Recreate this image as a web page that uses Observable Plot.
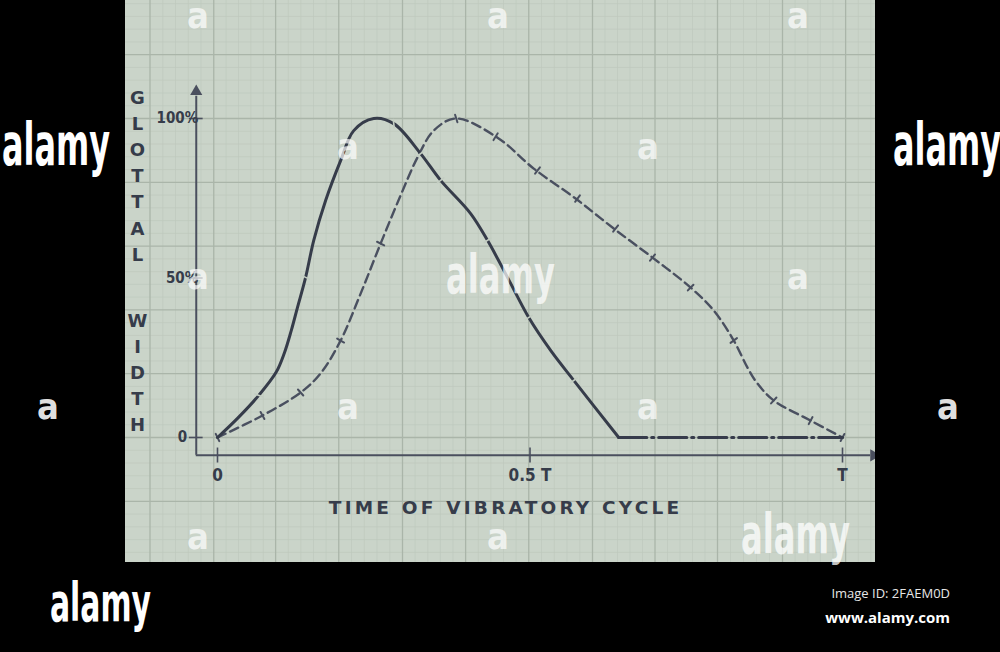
<!DOCTYPE html>
<html><head><meta charset="utf-8">
<script src="https://cdn.jsdelivr.net/npm/d3@7"></script>
<script src="https://cdn.jsdelivr.net/npm/@observablehq/plot@0.6"></script>
<style>
html,body{margin:0;padding:0;background:#000;width:1000px;height:652px;overflow:hidden;}
#panel{position:absolute;left:125px;top:0;width:750px;height:562px;background:#cad4c9;overflow:hidden;}
#overlay{position:absolute;left:0;top:0;pointer-events:none;}
</style></head><body>
<div id="panel"></div>
<svg id="overlay" width="1000" height="652"></svg>
<script>
// ---- data (time as fraction of cycle T, glottal width in %) ----
const solidX = [0, 0.032, 0.066, 0.094, 0.107, 0.118, 0.128, 0.141, 0.154, 0.173, 0.197, 0.218, 0.250, 0.282, 0.325, 0.357, 0.405, 0.432, 0.464, 0.498, 0.533, 0.570, 0.642];
const solidY = [0, 6, 13.2, 20.5, 26.5, 33.5, 40.8, 50.2, 61.8, 74.3, 86.8, 96.2, 100, 98.4, 89.0, 80.6, 70.2, 61.8, 50.2, 37.6, 27.3, 17.9, 0];
const closedX = [0.642, 1.0];
const closedY = [0, 0];
const dashX = [0, 0.072, 0.133, 0.165, 0.197, 0.229, 0.261, 0.293, 0.320, 0.346, 0.381, 0.448, 0.506, 0.573, 0.634, 0.696, 0.757, 0.794, 0.826, 0.848, 0.864, 0.890, 0.949, 1.0];
const dashY = [0, 6.9, 14.1, 20.1, 30.4, 45.1, 60.8, 75.9, 87.8, 96.2, 100, 94.0, 84.3, 74.9, 65.5, 56.4, 47.0, 39.8, 30.4, 21.9, 16.9, 11.6, 5.3, 0];
const dashTickX = [0, 0.072, 0.133, 0.197, 0.261, 0.382, 0.445, 0.512, 0.576, 0.637, 0.696, 0.757, 0.826, 0.890, 0.949, 1.0];
const dashTickY = [0, 6.9, 14.1, 30.4, 60.8, 100, 94.3, 83.7, 74.9, 65.5, 56.4, 47.0, 30.4, 11.6, 5.3, 0];
const notchX = [0.066, 0.141, 0.282, 0.325, 0.357, 0.432, 0.498, 0.570];
const notchY = [13.2, 50.2, 98.4, 89.0, 80.6, 61.8, 37.6, 17.9];
const xTickValues = [0, 0.5, 1];
const xTickLabels = ["0", "0.5 T", "T"];
const yTickValues = [0, 50, 100];
const yPctValues = [50, 100];
const yPctLabels = ["50%", "100%"];
const yZeroLabel = ["0"];
const gridX = [-0.108, -0.006, 0.093, 0.194, 0.296, 0.397, 0.498, 0.600, 0.700, 0.800, 0.904, 1.005, 1.106];
const gridY = [-40, -20, 0, 20, 40, 60, 80, 100, 120, 140];
const xTitle = "TIME OF VIBRATORY CYCLE";
const yTitle1 = "G\nL\nO\nT\nT\nA\nL";
const yTitle2 = "W\nI\nD\nT\nH";

// ---- derived tables ----
const solid = solidX.map((x, i) => ({x, y: solidY[i]}));
const closed = closedX.map((x, i) => ({x, y: closedY[i]}));
const dashed = dashX.map((x, i) => ({x, y: dashY[i]}));
const dashTicks = dashTickX.map((x, i) => ({x, y: dashTickY[i]}));
const notches = notchX.map((x, i) => ({x, y: notchY[i]}));
const minorX = [];
for (let i = 0; i < gridX.length - 1; i++) {
  const a = gridX[i], b = gridX[i + 1];
  for (let k = 1; k < 5; k++) minorX.push(a + (b - a) * k / 5);
}
const minorY = [];
for (let i = 0; i < gridY.length - 1; i++) {
  for (let k = 1; k < 5; k++) minorY.push(gridY[i] + (gridY[i + 1] - gridY[i]) * k / 5);
}

const ink = "#363c4a";
const axisX = -0.034, axisY = -5.6;
const lab = "'DejaVu Sans Condensed','Liberation Sans Narrow','Roboto',sans-serif";
const bold = "'DejaVu Sans','Verdana',sans-serif";

function tickMarker(len, sw, col) {
  return (color) => {
    const ns = "http://www.w3.org/2000/svg";
    const m = document.createElementNS(ns, "marker");
    m.setAttribute("viewBox", `${-len} ${-len} ${2 * len} ${2 * len}`);
    m.setAttribute("markerWidth", 2 * len);
    m.setAttribute("markerHeight", 2 * len);
    m.setAttribute("markerUnits", "userSpaceOnUse");
    m.setAttribute("orient", "auto");
    m.setAttribute("overflow", "visible");
    const p = document.createElementNS(ns, "path");
    p.setAttribute("d", `M0,${-len / 2}V${len / 2}`);
    p.setAttribute("stroke", col || color);
    p.setAttribute("stroke-width", sw);
    p.setAttribute("stroke-opacity", 1);
    p.setAttribute("stroke-dasharray", "none");
    p.setAttribute("fill", "none");
    m.appendChild(p);
    return m;
  };
}

const chart = Plot.plot({
  width: 750, height: 562,
  marginLeft: 92, marginRight: 33, marginTop: 118, marginBottom: 125,
  x: {domain: [0, 1], axis: null},
  y: {domain: [0, 100], axis: null},
  style: {background: "transparent", overflow: "visible"},
  marks: [
    Plot.ruleX(minorX, {x: d => d, y1: -45, y2: 150, stroke: "#bec8bd", strokeWidth: 0.7}),
    Plot.ruleY(minorY, {y: d => d, x1: -0.2, x2: 1.2, stroke: "#bec8bd", strokeWidth: 0.7}),
    Plot.ruleX(gridX, {x: d => d, y1: -45, y2: 150, stroke: "#aab5a9", strokeWidth: 1.3}),
    Plot.ruleY(gridY, {y: d => d, x1: -0.2, x2: 1.2, stroke: "#aab5a9", strokeWidth: 1.3}),
    // axes
    Plot.ruleY([axisY], {y: d => d, x1: axisX, x2: 1.045, stroke: "#4a4f5e", strokeWidth: 2}),
    Plot.ruleX([axisX], {x: d => d, y1: axisY, y2: 107, stroke: "#4a4f5e", strokeWidth: 2}),
    Plot.dot([1.05], {x: d => d, y: axisY, symbol: "triangle", r: 4.5, rotate: 90, fill: "#4a4f5e", stroke: "none"}),
    Plot.dot([axisX], {x: d => d, y: 108.5, symbol: "triangle", r: 4.5, fill: "#4a4f5e", stroke: "none"}),
    Plot.ruleX(xTickValues, {x: d => d, y1: -3.3, y2: -8, stroke: "#4a4f5e", strokeWidth: 1.6}),
    Plot.ruleY(yTickValues, {y: d => d, x1: axisX - 0.011, x2: axisX + 0.011, stroke: "#4a4f5e", strokeWidth: 1.6}),
    // tick labels
    Plot.text(xTickValues, {x: d => d, y: -9.8, text: (d, i) => xTickLabels[i], fill: ink, fontSize: 17, fontWeight: 600, fontFamily: lab, lineAnchor: "top"}),
    Plot.text(yPctValues, {x: axisX, y: d => d, text: (d, i) => yPctLabels[i], fill: ink, fontSize: 15, fontWeight: 600, fontFamily: lab, textAnchor: "end", dx: 2}),
    Plot.text(yZeroLabel, {x: axisX, y: 0, text: d => d, fill: ink, fontSize: 15, fontWeight: 600, fontFamily: lab, textAnchor: "end", dx: -9}),
    // titles
    Plot.text([xTitle], {x: 0.461, y: -22, text: d => d, fill: ink, fontSize: 18.5, fontWeight: "bold", fontFamily: bold}),
    Plot.text([yTitle1], {x: -0.128, y: 82.6, text: d => d, fill: ink, fontSize: 18, fontWeight: "bold", fontFamily: bold, lineHeight: 1.45}),
    Plot.text([yTitle2], {x: -0.128, y: 21.0, text: d => d, fill: ink, fontSize: 18, fontWeight: "bold", fontFamily: bold, lineHeight: 1.45}),
    // curves
    Plot.line(dashed, {x: "x", y: "y", curve: "catmull-rom", stroke: "#4a5060", strokeWidth: 2.4, strokeDasharray: "9,5"}),
    Plot.line(dashTicks, {x: "x", y: "y", stroke: "#4a5060", strokeOpacity: 0, markerStart: tickMarker(8, 2, "#4a5060"), markerMid: tickMarker(8, 2, "#4a5060"), markerEnd: tickMarker(8, 2, "#4a5060")}),
    Plot.line(solid, {x: "x", y: "y", curve: "catmull-rom", stroke: ink, strokeWidth: 3}),
    Plot.line(notches, {x: "x", y: "y", stroke: ink, strokeOpacity: 0, markerStart: tickMarker(8, 1.6, "#c3cdc2"), markerMid: tickMarker(8, 1.6, "#c3cdc2"), markerEnd: tickMarker(8, 1.6, "#c3cdc2")}),
    Plot.line(closed, {x: "x", y: "y", stroke: "#363b4b", strokeWidth: 3.2, strokeDasharray: "28,5,2,5"})
  ]
});
d3.select(chart).selectAll("text").filter(function () { return this.textContent === xTitle; })
  .attr("letter-spacing", "3.2px").style("letter-spacing", "3.2px");
document.getElementById("panel").appendChild(chart);

// ---- stock-photo watermark overlay ----
const ov = d3.select("#overlay");
const wm = "'Liberation Sans Narrow','DejaVu Sans Condensed','Roboto',sans-serif";
function word(t, x, y, size, len, op) {
  ov.append("text").attr("x", x).attr("y", y).attr("font-family", wm).attr("font-weight", "bold")
    .attr("font-size", size).attr("textLength", len).attr("lengthAdjust", "spacingAndGlyphs")
    .attr("fill", "#fff").attr("fill-opacity", op).text(t);
}
word("alamy", 2, 165, 58, 108, 1);
word("alamy", 893, 165, 58, 108, 1);
word("alamy", 446, 293, 54, 109, 0.72);
word("alamy", 741, 553, 55, 109, 0.75);
word("alamy", 50, 621, 54, 101, 1);
const aPos = [[198,17,0.7],[498,17,0.7],[798,17,0.7],[348,148,0.7],[648,148,0.7],[198,278,0.7],[798,278,0.7],[48,408,0.9],[348,408,0.7],[648,408,0.7],[948,408,0.9],[198,538,0.7],[498,538,0.7]];
for (const [x, y, op] of aPos) {
  ov.append("text").attr("x", x).attr("y", y + 11).attr("text-anchor", "middle").attr("font-family", wm)
    .attr("font-weight", "bold").attr("font-size", 36).attr("fill", "#fff").attr("fill-opacity", op).text("a");
}
ov.append("text").attr("x", 950).attr("y", 598).attr("text-anchor", "end").attr("font-family", "'Open Sans',sans-serif")
  .attr("font-size", 13).attr("fill", "#e6e6e6").text("Image ID: 2FAEM0D");
ov.append("text").attr("x", 950).attr("y", 623).attr("text-anchor", "end").attr("font-family", "'Open Sans',sans-serif")
  .attr("font-weight", "bold").attr("font-size", 15).attr("fill", "#fff").text("www.alamy.com");
</script>
</body></html>
